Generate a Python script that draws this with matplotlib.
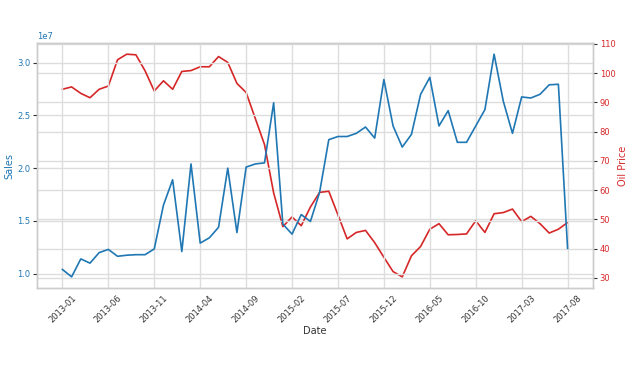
import pandas as pd
import matplotlib
matplotlib.use('Agg')
import matplotlib.pyplot as plt

# monthly values
dates = pd.date_range('2013-01-01', '2017-08-01', freq='MS').strftime('%Y-%m').tolist()

sales = [1.04, 0.97, 1.14, 1.10, 1.20, 1.23, 1.165, 1.175, 1.18, 1.18,
         1.235, 1.65, 1.89, 1.21, 2.04, 1.29, 1.34, 1.44, 2.00, 1.39,
         2.01, 2.04, 2.05, 2.62, 1.47, 1.375, 1.56, 1.495, 1.77, 2.27,
         2.30, 2.30, 2.33, 2.39, 2.285, 2.84, 2.40, 2.20, 2.32, 2.70,
         2.86, 2.40, 2.545, 2.245, 2.245, 2.40, 2.555, 3.08, 2.635, 2.33,
         2.675, 2.665, 2.70, 2.79, 2.795, 1.24]
sales = [v * 1e7 for v in sales]

oil_price = [94.5, 95.3, 93.1, 91.6, 94.5, 95.6, 104.6, 106.5, 106.3, 100.8,
             93.9, 97.4, 94.5, 100.6, 100.9, 102.2, 102.2, 105.7, 103.7, 96.5,
             93.4, 84.5, 75.6, 59.0, 47.5, 50.8, 47.8, 54.2, 59.2, 59.6,
             51.5, 43.3, 45.5, 46.2, 42.0, 37.0, 32.1, 30.3, 37.5, 40.7,
             46.6, 48.5, 44.7, 44.8, 45.0, 49.5, 45.5, 51.9, 52.3, 53.5,
             49.2, 51.0, 48.5, 45.3, 46.6, 48.9]

blue = '#1f77b4'
red = '#d62728'
grid_col = '#dddddd'

fig, ax1 = plt.subplots(figsize=(6.3, 3.65), dpi=100)
fig.subplots_adjust(left=0.059, right=0.941, top=0.882, bottom=0.211)

x = list(range(len(dates)))
ax1.plot(x, sales, color=blue, linewidth=1.2)
ax1.set_xlabel('Date', fontsize=7, color='#333333', labelpad=1)
ax1.set_ylabel('Sales', fontsize=7, color=blue, labelpad=2)
ax1.tick_params(axis='y', labelcolor=blue, labelsize=6, length=3, color='#333333',
                width=0.8, pad=2)
ax1.tick_params(axis='x', labelsize=6, labelcolor='#333333', length=0, pad=4)
ax1.set_xticks(x[::5])
ax1.set_xticklabels(dates[::5], rotation=45)
ax1.yaxis.get_offset_text().set_fontsize(6)
ax1.yaxis.get_offset_text().set_color(blue)
ax1.grid(True, color=grid_col, linewidth=1.0)
ax1.set_axisbelow(True)

ax2 = ax1.twinx()
ax2.plot(x, oil_price, color=red, linewidth=1.2)
ax2.set_ylabel('Oil Price', fontsize=7, color=red, labelpad=2)
ax2.tick_params(axis='y', labelcolor=red, labelsize=6, length=3, color='#333333',
                width=0.8, pad=2)
ax2.set_yticks([30, 40, 50, 60, 70, 80, 90, 100, 110])
ax2.grid(True, axis='y', color=grid_col, linewidth=1.0)
ax2.set_axisbelow(True)
ax1.set_zorder(ax2.get_zorder() + 1)
ax1.patch.set_visible(False)

for ax in (ax1, ax2):
    for s in ax.spines.values():
        s.set_color('#cccccc')
        s.set_linewidth(1.0)

plt.savefig('out.png')
